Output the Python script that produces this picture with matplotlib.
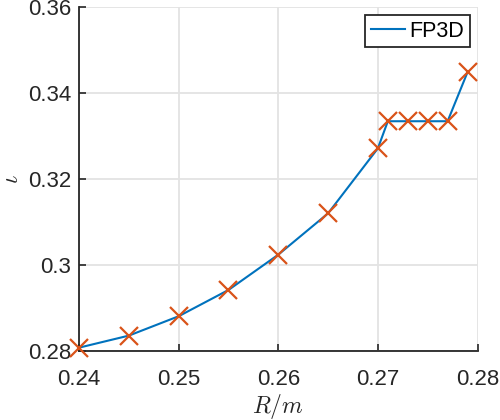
import numpy as np
from matplotlib import pyplot as plt

plt.rcParams['font.family'] = ['Liberation Sans', 'DejaVu Sans']
plt.rcParams['mathtext.fontset'] = 'cm'

# radius values and rotational transform
r = [0.24, 0.245, 0.25, 0.255, 0.26, 0.265, 0.27, 0.271, 0.273, 0.275, 0.277, 0.279]
iota = [0.2808, 0.2836, 0.2881, 0.2942, 0.3024, 0.3120, 0.3271,
        0.3334, 0.3334, 0.3334, 0.3334, 0.3448]

xticks = [0.24, 0.25, 0.26, 0.27, 0.28]
yticks = [0.28, 0.30, 0.32, 0.34, 0.36]
ytick_labels = ['0.28', '0.3', '0.32', '0.34', '0.36']

fig = plt.figure(figsize=(5, 4.2), dpi=100)
ax = fig.add_axes([0.158, 0.164, 0.797, 0.82])

ax.plot(r, iota, color='#0072BD', lw=1.5, label='FP3D')
ax.plot(r, iota, ls='none', marker='x', ms=13, mew=1.6, color='#D95319',
        clip_on=False, zorder=3)

ax.set_xlim(0.24, 0.28)
ax.set_ylim(0.28, 0.36)
ax.set_xticks(xticks)
ax.set_xticklabels([f'{t:g}' for t in xticks])
ax.set_yticks(yticks)
ax.set_yticklabels(ytick_labels)

ax.grid(True, color='#e3e3e3', lw=1.3)
ax.set_axisbelow(True)
for s in ['top', 'right']:
    ax.spines[s].set_visible(False)
for s in ['left', 'bottom']:
    ax.spines[s].set_linewidth(1.3)
    ax.spines[s].set_color('#262626')
ax.tick_params(direction='in', length=5, width=1.2, color='#262626',
               labelsize=16, labelcolor='#262626')
ax.tick_params(axis='x', pad=13)
ax.tick_params(axis='y', pad=5.5)

ax.set_xlabel('$R/m$', fontsize=17, color='#262626', labelpad=1)
ax.set_ylabel(r'$\iota$', fontsize=17, color='#262626', labelpad=4)

leg = ax.legend(loc='upper right', fontsize=15.5, fancybox=False, framealpha=1,
                edgecolor='#262626', handlelength=1.6, handletextpad=0.2,
                borderpad=0.25, borderaxespad=0.0,
                bbox_to_anchor=(0.98, 0.975))
leg.get_frame().set_linewidth(1.3)

fig.savefig('out.png', dpi=100)
